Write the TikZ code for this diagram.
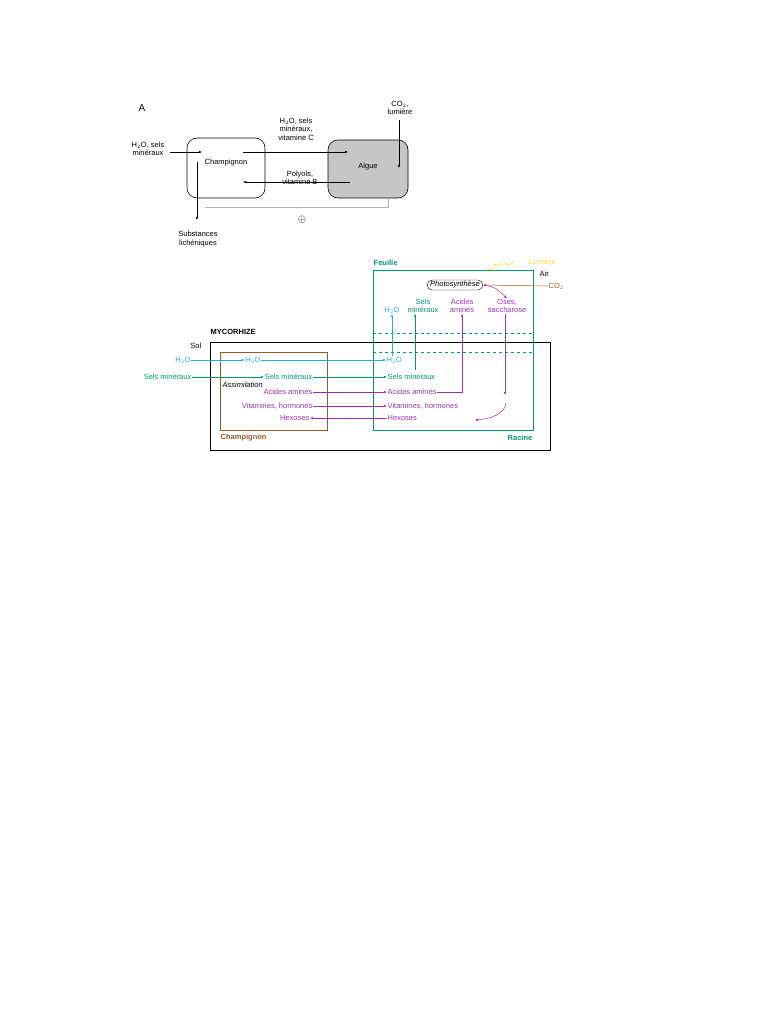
\documentclass[tikz,border=0pt]{standalone}
\usepackage{fontspec}
\setmainfont{Liberation Sans}
\usetikzlibrary{arrows.meta,decorations.pathmorphing}
\definecolor{cy}{RGB}{40,175,200}
\definecolor{gr}{RGB}{0,150,115}
\definecolor{pu}{RGB}{150,50,170}
\definecolor{br}{RGB}{150,90,40}
\definecolor{ye}{RGB}{245,220,40}
\begin{document}
\begin{tikzpicture}[x=1pt,y=-1pt,
  t/.style={font=\fontsize{7.5}{8.5}\selectfont,inner sep=0.5pt,align=center},
  a/.style={-{Latex[length=3pt,width=2.5pt]},line width=0.5pt},
  bx/.style={draw,rounded corners=10pt,line width=0.6pt}]
\useasboundingbox (0,0) rectangle (768,1024);
% ---- part A
\node[font=\fontsize{10}{11}\selectfont] (A) at (142,108) {A};
\node[bx,minimum width=78pt,minimum height=60pt] (ch) at (226,168) {};
\node[t] (chl) at (226,163) {Champignon};
\node[bx,fill=gray!45,minimum width=80pt,minimum height=58pt] (al) at (368,169) {};
\node[t] (all) at (368,167) {Algue};
\node[t] (in) at (148,149) {H$_2$O, sels\\minéraux};
\coordinate (in1) at (170,152); \coordinate (in2) at (202,152);
\draw[a] (in1) -- (in2);
\coordinate (c1) at (243,152); \coordinate (c2) at (348,152);
\draw[a] (c1) -- (c2);
\node[t] (hv) at (296,129) {H$_2$O, sels\\minéraux,\\vitamine C};
\coordinate (p1) at (350,182); \coordinate (p2) at (243,182);
\draw[a] (p1) -- (p2);
\node[t] (pv) at (300,178) {Polyols,\\vitamine B};
\node[t] (co) at (400,108) {CO$_2$,\\lumière};
\coordinate (co1) at (399,120); \coordinate (co2) at (399,168);
\draw[a] (co1) -- (co2);
\coordinate (s1) at (197,162); \coordinate (s2) at (197,220);
\draw[a] (s1) -- (s2);
\node[t] (sl) at (198,239) {Substances\\lichéniques};
\coordinate (f1) at (388,198); \coordinate (f2) at (388,207); \coordinate (f3) at (205,207);
\draw[gray!60,line width=0.6pt] (f1) -- (f2) -- (f3);
\node[font=\fontsize{11}{12}\selectfont] (plus) at (302,220) {$\oplus$};
% ---- mycorhize
\draw[line width=0.6pt] (210,342) rectangle (550,450);
\node[t,anchor=west,font=\bfseries\fontsize{7.5}{8.5}\selectfont] (my) at (210,332) {MYCORHIZE};
\node[t,anchor=east] (sol) at (202,346) {Sol};
\draw[br,line width=0.9pt] (220,352) rectangle (327,430);
\node[t,anchor=west,br,font=\bfseries\fontsize{7.5}{8.5}\selectfont] (chn) at (220,438) {Champignon};
\draw[gr,line width=1pt] (373,270) rectangle (533,430);
\node[t,anchor=west,gr,font=\bfseries\fontsize{7.5}{8.5}\selectfont] (fe) at (373,263) {Feuille};
\node[t,anchor=east,gr,font=\bfseries\fontsize{7.5}{8.5}\selectfont] (ra) at (533,438) {Racine};
\draw[gr,dashed,line width=0.6pt] (373,333) -- (533,333);
\draw[gr,dashed,line width=0.6pt] (373,352) -- (533,352);
% top of leaf
\draw[ye,line width=0.6pt,decorate,decoration={snake,amplitude=2pt,segment length=8pt}] (487,272) -- (502,262);
\draw[ye,line width=0.6pt] (505,262) .. controls (507,266) and (511,266) .. (514,260);
\node[t,anchor=west,ye] (lu) at (528,262) {Lumière};
\node[t,anchor=west] (air) at (539,274) {Air};
\node[t,anchor=west,br] (co2) at (548,286) {CO$_2$};
\node[t,draw,rounded corners=5pt,inner xsep=3pt,inner ysep=1.5pt,font=\itshape\fontsize{7.5}{8.5}\selectfont] (ph) at (455,285) {Photosynthèse};
\draw[a,br] (co2.west) -- (ph.east);
\node[t,cy] (lh) at (392,310) {H$_2$O};
\node[t,gr] (ls) at (423,306) {Sels\\minéraux};
\node[t,pu] (la) at (462,306) {Acides\\aminés};
\node[t,pu] (lo) at (507,306) {Oses,\\saccharose};
\draw[a,pu] (ph.east) .. controls (496,287) and (498,290) .. (lo.north);
% rows
\node[t,cy] (h0) at (183,360) {H$_2$O};
\node[t,cy] (h1) at (253,360) {H$_2$O};
\node[t,cy,anchor=west] (h2) at (386,360) {H$_2$O};
\draw[a,cy] (h0) -- (h1); \draw[a,cy] (h1) -- (h2);
\node[t,gr,anchor=east] (s0) at (192,377) {Sels minéraux};
\node[t,gr,anchor=east] (s1n) at (313,377) {Sels minéraux};
\node[t,gr,anchor=west] (s2n) at (387,377) {Sels minéraux};
\draw[a,gr,line width=0.9pt] (s0) -- (s1n); \draw[a,gr,line width=0.9pt] (s1n) -- (s2n);
\node[t,anchor=west,font=\itshape\fontsize{7.5}{8.5}\selectfont] (as) at (222,385) {Assimilation};
\node[t,pu,anchor=east] (a1) at (313,392) {Acides aminés};
\node[t,pu,anchor=west] (a2) at (387,392) {Acides aminés};
\draw[a,pu] (a1) -- (a2);
\node[t,pu,anchor=east] (v1) at (313,406) {Vitamines, hormones};
\node[t,pu,anchor=west] (v2) at (387,406) {Vitamines, hormones};
\draw[a,pu] (v1) -- (v2);
\node[t,pu,anchor=east] (x1) at (310,418) {Hexoses};
\node[t,pu,anchor=west] (x2) at (387,418) {Hexoses};
\draw[a,pu] (x2) -- (x1);
% vertical transport
\draw[a,cy] (h2.north-|lh) -- (lh.south);
\coordinate (sb) at (415,370);
\draw[a,gr] (sb) -- (sb|-ls.south);
\coordinate (ab) at (462,392);
\draw[a,pu] (a2.east) -- (ab) -- (la.south);
\coordinate (ob) at (505,395);
\draw[a,pu] (lo.south-|ob) -- (ob);
\coordinate (oc1) at (506,403); \coordinate (oc2) at (475,420);
\draw[a,pu] (oc1) .. controls (505,414) and (490,419) .. (oc2);
\end{tikzpicture}
\end{document}
